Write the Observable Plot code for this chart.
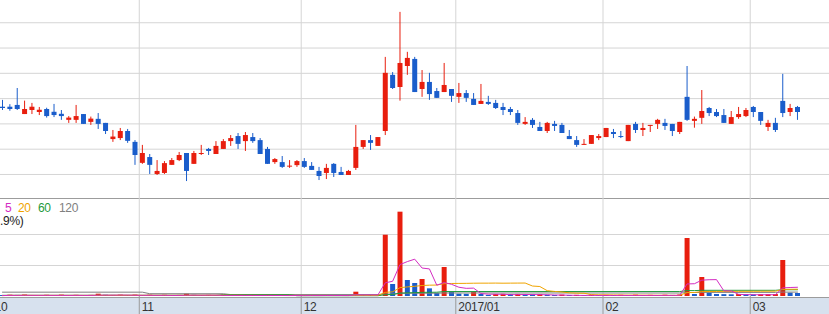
<!DOCTYPE html>
<html>
<head>
<meta charset="utf-8">
<script src="https://cdn.jsdelivr.net/npm/d3@7"></script>
<script src="https://cdn.jsdelivr.net/npm/@observablehq/plot@0.6"></script>
<style>
  body { margin: 0; background: #fff; }
  #chart { position: relative; width: 829px; height: 314px; overflow: hidden;
    font-family: "Liberation Sans", sans-serif; }
  #chart svg { display: block; }
  .lg { position: absolute; font-size: 12px; line-height: 12px; letter-spacing: -0.3px; white-space: nowrap; }
</style>
</head>
<body>
<div id="chart"></div>
<script>
// ---- data ----
const openP = [366,366,373,337,353,345,357,346,338,314, 314,337,306,318,302,238,242,270,227,144,
  167,100,104,136,155,183,140,179,199,179, 199,230,250,230,246,234,199,147,147,129,
  135,151,132,112,104,140,108,96,124,207, 234,211,270,492,444,527,555,436,464,428,
  424,436,405,420,397,377,385,381,365,357, 341,298,314,286,270,298,294,250,234,215,
  219,242,246,266,250,230,298,274,290,298, 302,298,266,405,310,322,361,345,333,298,
  325,329,365,345,286,302,389,345,365];
const highP = [393,376,440,390,381,365,362,377,353,329, 373,337,327,341,302,274,282,278,234,215,
  179,155,151,163,187,183,191,215,203,230, 238,254,262,266,262,242,207,163,171,155,
  155,163,147,128,140,143,128,116,294,234, 254,246,563,503,741,583,563,511,500,440,
  539,436,460,432,420,456,409,393,381,365, 353,325,321,306,306,310,302,274,250,238,
  254,258,282,278,270,294,306,302,294,318, 318,298,306,527,327,432,365,357,357,349,
  365,361,369,345,314,322,496,377,369];
const lowP = [353,350,353,337,337,333,323,325,314,302, 302,298,294,278,258,227,234,223,136,140,
  100,96,100,136,151,72,140,175,175,179, 199,211,199,191,223,179,140,140,124,124,
  128,124,116,76,80,88,96,96,116,199, 195,211,254,436,390,492,424,405,393,401,
  424,385,381,385,373,377,373,357,333,333, 294,294,282,270,262,270,262,238,207,215,
  219,234,246,242,242,230,262,250,266,278, 274,250,258,310,283,298,329,325,302,298,
  318,325,325,294,270,266,325,329,314];
const closeP = [361,357,357,357,366,354,329,333,329,323, 329,298,319,298,270,248,270,231,175,183,
  136,112,143,155,175,112,183,183,191,211, 230,242,219,254,230,179,140,159,128,133,
  151,128,116,92,124,104,96,112,207,234, 223,246,500,440,539,559,424,464,416,401,
  452,409,420,401,373,389,377,361,353,345, 302,306,294,270,302,290,262,238,215,219,
  254,250,282,258,246,294,274,282,294,314, 290,270,306,314,318,349,341,329,302,325,
  337,353,345,310,302,274,341,361,345];
const volume = [30,42,35,48,31,28,40,33,45,30, 38,29,36,74,40,35,44,32,46,30,
  41,33,39,27,35,74,38,30,36,33, 40,28,37,31,35,29,38,26,33,24,
  31,27,34,30,36,25,30,27,139,25, 35,30,1977,387,2720,516,419,548,247,97,
  935,140,75,70,129,65,35,65,70,62, 68,58,52,60,40,32,45,30,38,28,
  41,33,36,30,39,27,44,31,37,29, 42,35,48,1871,65,613,108,65,60,55,
  62,58,50,57,60,63,1161,108,97];
// volume moving averages that reach back before the visible range: [day index, value]
const ma60 = [[0,38],[29,38],[30,58],[39,58],[40,25],[51,25],[52,58],[53,64],[54,110],[55,118],
  [56,125],[57,134],[59,138],[60,160],[92,160],[93,190],[94,190],[95,200],[105,200],[106,218],[108,218]];
const ma120 = [[0,140],[19,140],[20,90],[30,88],[31,62],[51,62],[52,78],[53,80],[54,102],[59,106],
  [60,114],[92,112],[93,128],[94,128],[95,133],[105,133],[106,142],[108,142]];
const monthStart = [-2, 18, 40, 61, 81, 101];
const monthLabels = ["10", "11", "12", "2017/01", "02", "03"];
const priceGrid = [100, 200, 300, 400, 500, 600, 700];
const volumeGrid = [1000, 2000];
const maPeriods = ["5", "20", "60", "120"];
const maColors = ["#d42cc2", "#f0a400", "#1e9a3c", "#808080"];
const ratioText = ".9%)";

// ---- build ----
const RED = "#e81e0e", BLUE = "#1a5dcb", GRID = "#d5d5d5";
const days = openP.map((o, i) => ({
  i, open: o, high: highP[i], low: lowP[i], close: closeP[i], vol: volume[i],
  volUp: i > 0 && volume[i] > volume[i - 1]
}));
const candleColor = d => (d.close > d.open ? RED : BLUE);
const monthPos = monthStart.map(d => d + 0.58);
const labelFor = new Map(monthPos.map((p, k) => [p, monthLabels[k]]));
const xDomain = [-0.272, 112.35];
const volTop = 3161;

const upper = Plot.plot({
  width: 829, height: 198, margin: 0,
  x: {domain: xDomain, axis: null},
  y: {domain: [5, 788], axis: null},
  color: {type: "identity"},
  marks: [
    Plot.ruleY(priceGrid, {stroke: GRID}),
    Plot.ruleX(monthPos, {stroke: GRID}),
    Plot.ruleX(days, {x: "i", y1: "low", y2: "high", stroke: candleColor, strokeWidth: 1}),
    Plot.ruleX(days, {x: "i", y1: "open", y2: "close", stroke: candleColor, strokeWidth: 5})
  ]
});

const lower = Plot.plot({
  width: 829, height: 116, marginTop: 0, marginBottom: 18, marginLeft: 0, marginRight: 0,
  x: {domain: xDomain, axis: null},
  y: {domain: [0, volTop], axis: null},
  color: {type: "identity"},
  style: {
    background: "linear-gradient(to bottom, #fff 0px, #fff 99px, #9c9c9c 99px, #9c9c9c 100px, #d7e1ee 100px, #d7e1ee 116px)",
    fontFamily: "'Liberation Sans', sans-serif",
    fontSize: "12px",
    letterSpacing: "-0.3px"
  },
  marks: [
    Plot.ruleY(volumeGrid, {stroke: GRID}),
    Plot.ruleY([volTop], {stroke: "#9c9c9c"}),
    Plot.ruleX(monthPos, {stroke: GRID}),
    Plot.ruleX(days, {x: "i", y1: 0, y2: "vol", stroke: d => (d.volUp ? RED : BLUE), strokeWidth: 5}),
    Plot.line(ma120, {stroke: maColors[3], strokeWidth: 1}),
    Plot.line(ma60, {stroke: maColors[2], strokeWidth: 1}),
    Plot.lineY(days, Plot.windowY({k: 20, anchor: "end"}, {x: "i", y: "vol", stroke: maColors[1], strokeWidth: 1})),
    Plot.lineY(days, Plot.windowY({k: 5, anchor: "end"}, {x: "i", y: "vol", stroke: maColors[0], strokeWidth: 1})),
    Plot.axisX(monthPos, {anchor: "bottom", tickSize: 18, stroke: "#9a9a9a", fill: "none", label: null}),
    Plot.axisX(monthPos, {anchor: "bottom", tickSize: 0, tickPadding: 6, dx: 2.5, textAnchor: "start",
      fill: "#333", stroke: "none", label: null, fontSize: 12, tickFormat: d => labelFor.get(d)})
  ]
});

const chart = document.getElementById("chart");
chart.append(upper, lower);

const legendLeft = [5, 18, 38, 59];
maPeriods.forEach((t, k) => {
  const s = document.createElement("span");
  s.className = "lg";
  s.textContent = t;
  s.style.left = legendLeft[k] + "px";
  s.style.top = "202px";
  s.style.color = maColors[k];
  chart.append(s);
});
const r = document.createElement("span");
r.className = "lg";
r.textContent = ratioText;
r.style.left = "0px";
r.style.top = "215px";
r.style.color = "#222";
chart.append(r);
</script>
</body>
</html>
